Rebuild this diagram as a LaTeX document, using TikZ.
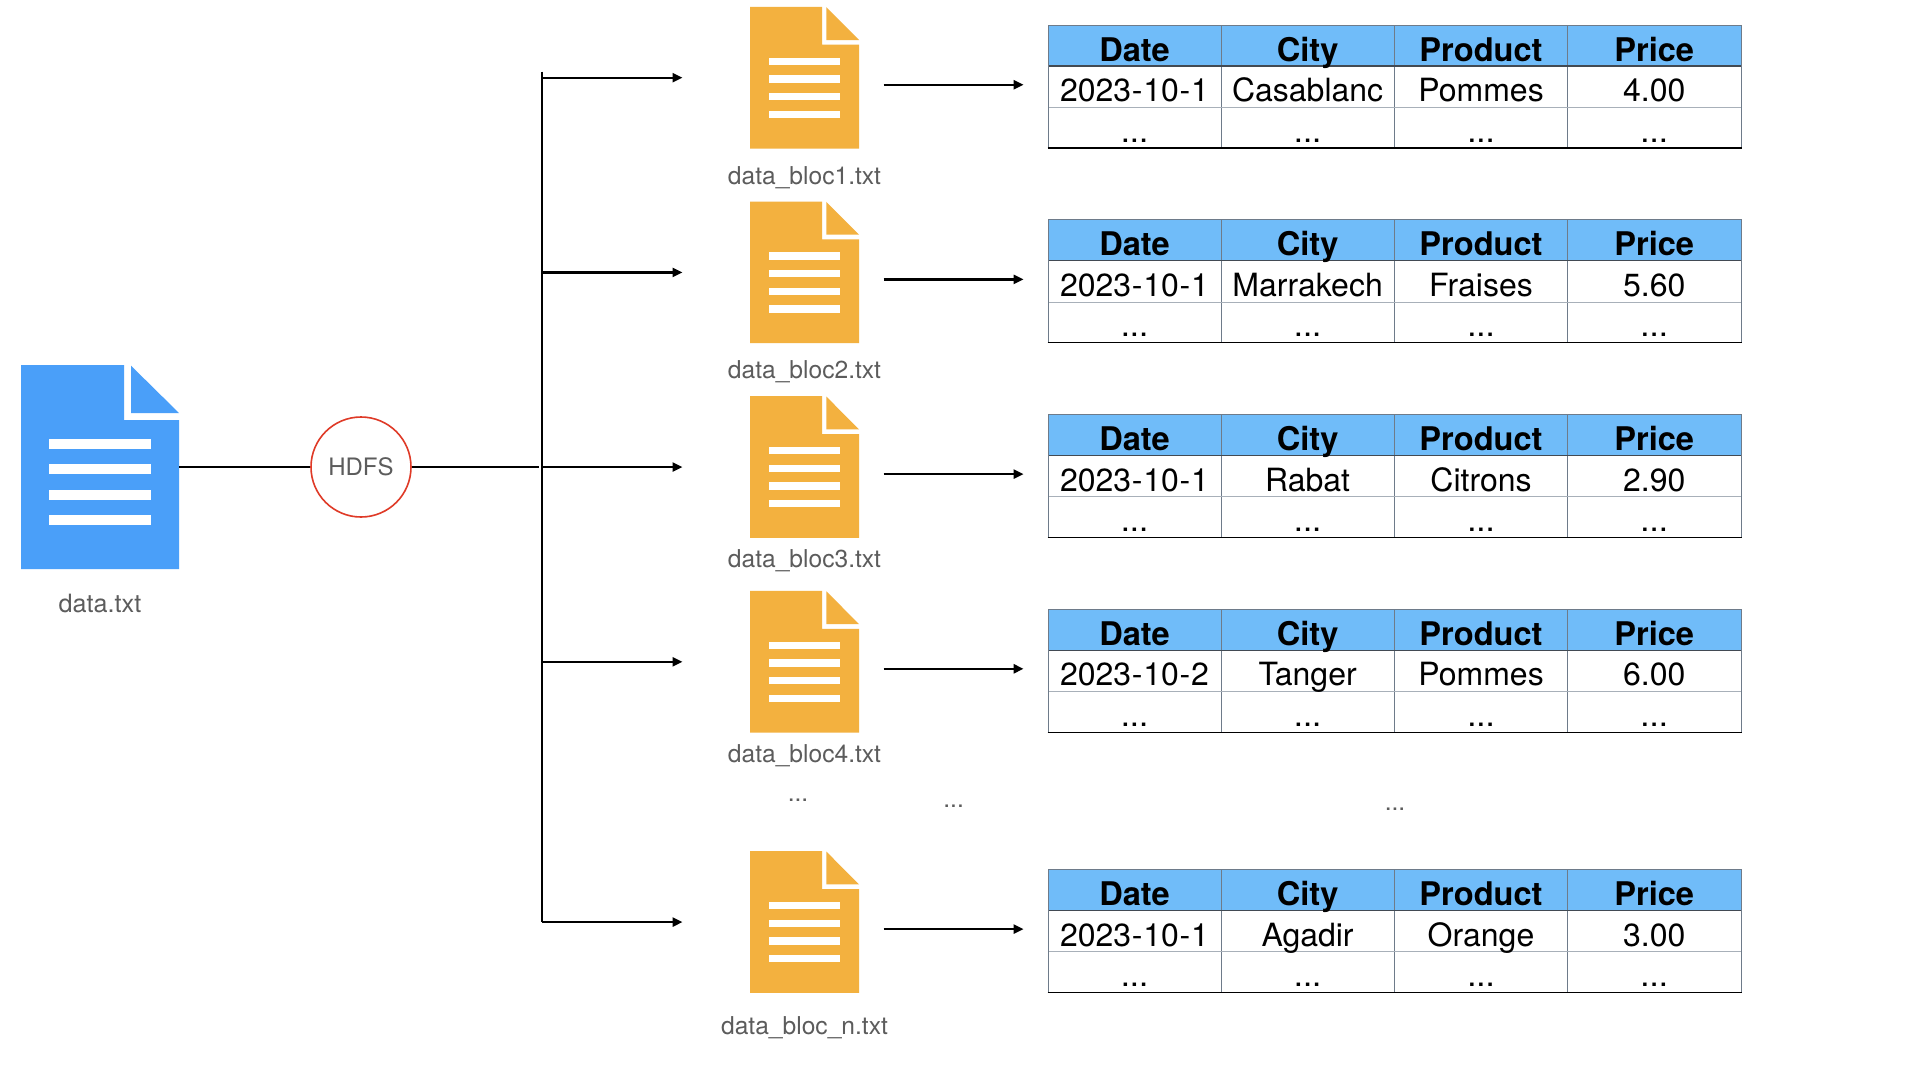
\documentclass[tikz,border=0pt]{standalone}
\usepackage{fontspec}
\setmainfont{TeX Gyre Heros}
\usetikzlibrary{arrows.meta}
\definecolor{docblue}{HTML}{4A9FF9}
\definecolor{docorange}{HTML}{F3B13F}
\definecolor{headblue}{HTML}{70BCF9}
\definecolor{hdfsred}{HTML}{DF3A27}
\definecolor{labelgrey}{HTML}{5C5C5C}
\definecolor{gridgrey}{HTML}{6E7B8A}
\newcommand{\fs}[1]{\fontsize{#1}{#1}\selectfont}
\newcommand{\hy}{\kern.75pt-\kern.75pt}
\tikzset{
  link/.style={line width=2.4pt,black},
  arr/.style={link,-{Triangle[length=10pt,width=9pt]}},
  lbl/.style={inner sep=0pt,anchor=center,text=labelgrey,font=\fs{24.6}},
  dots/.style={inner sep=0pt,anchor=base,text=labelgrey,font=\fs{24.6}},
  cell/.style={inner sep=0pt,anchor=base,text=black,font=\fs{32}},
  dotcell/.style={inner sep=0pt,anchor=base,text=black,font=\fs{33}},
  headcell/.style={inner sep=0pt,anchor=base,text=black,font=\fs{32.6}\bfseries},
  ghost/.style={inner sep=0pt,outer sep=0pt,draw=none}
}
% #1 id, #2 top of table, #3 label y, #4 label, #5 date, #6 city, #7 product, #8 price
\newcommand{\blocrow}[8]{
  \begin{scope}[shift={(0,#2)}]
    \node[ghost,minimum width=109pt,minimum height=141.7pt] (doc#1) at (804.5,52.65) {};
    \fill[docorange] (750,-18.2) -- (822,-18.2) -- (822,19.7) -- (859,19.7) -- (859,123.5) -- (750,123.5) -- cycle;
    \fill[docorange] (826.4,-17.8) -- (859,15) -- (826.4,15) -- cycle;
    \foreach \yy in {36.3,54,71.7,89.3}
      \fill[white] (769,\yy-3.65) rectangle (840,\yy+3.65);
    \fill[headblue] (1048,0) rectangle (1741,41);
    \draw[gridgrey,line width=.9pt] (1221,0) -- (1221,123) (1394.3,0) -- (1394.3,123) (1567.5,0) -- (1567.5,123);
    \draw[gridgrey!60,line width=1pt] (1048,82.3) -- (1741,82.3);
    \draw[gridgrey!60!black,line width=1.1pt] (1048,41) -- (1741,41);
    \draw[gridgrey,line width=1pt] (1048,123) -- (1048,0) -- (1741,0) -- (1741,123);
    \draw[black,line width=1.1pt] (1047.5,123) -- (1741.5,123);
    \node[ghost,minimum width=693pt,minimum height=123pt] (tab#1) at (1394.5,61.5) {};
    \node[headcell] (h#1a) at (1134.5,36) {Date};
    \node[headcell] (h#1b) at (1307.6,36) {City};
    \node[headcell] (h#1c) at (1481,36) {Product};
    \node[headcell] (h#1d) at (1654.2,36) {Price};
    \node[cell] (c#1a) at (1134.5,76.7) {#5};
    \node[cell] (c#1b) at (1307.6,76.7) {#6};
    \node[cell] (c#1c) at (1481,76.7) {#7};
    \node[cell] (c#1d) at (1654.2,76.7) {#8};
    \node[dotcell] (d#1a) at (1134.5,117) {...};
    \node[dotcell] (d#1b) at (1307.6,117) {...};
    \node[dotcell] (d#1c) at (1481,117) {...};
    \node[dotcell] (d#1d) at (1654.2,117) {...};
    \coordinate (s#1) at (542,52.7);
    \coordinate (e#1) at (682.5,52.7);
    \coordinate (ss#1) at (883.6,59.7);
    \coordinate (ee#1) at (1023.6,59.7);
  \end{scope}
  \node[lbl] (lab#1) at (804.5,#3) {#4};
  \draw[arr] (s#1) -- (e#1);
  \draw[arr] (ss#1) -- (ee#1);
}
\begin{document}
\begin{tikzpicture}[x=1pt,y=-1pt]
  \useasboundingbox (0,0) rectangle (1920,1080);
  \fill[white] (0,0) rectangle (1920,1080);

  % source document
  \node[ghost,minimum width=158pt,minimum height=204pt] (src) at (100,467) {};
  \fill[docblue] (21,365) -- (124,365) -- (124,420) -- (179,420) -- (179,569) -- (21,569) -- cycle;
  \fill[docblue] (131,365.7) -- (179,413) -- (131,413) -- cycle;
  \foreach \yy in {444,469.3,495,520.3}
    \fill[white] (49,\yy-5) rectangle (151,\yy+5);
  \node[lbl,font=\fs{25.2}] (srclab) at (100,603) {data.txt};

  \node[circle,draw=hdfsred,line width=1.6pt,fill=white,minimum size=100pt,inner sep=0pt,text=labelgrey,font=\fs{24}] (hdfs) at (361,467) {HDFS};
  \coordinate (tt) at (542,71.7);
  \coordinate (tb) at (542,922);
  \coordinate (jn) at (538.6,467);

  \draw[link] (src.east) -- (hdfs.west);
  \draw[link] (hdfs.east) -- (jn);
  \draw[link] (tt) -- (tb);

  \blocrow{1}{25}{178}{data\_bloc1.txt}{2023\hy10\hy1}{Casablanc}{Pommes}{4.00}
  \blocrow{2}{219.7}{371.7}{data\_bloc2.txt}{2023\hy10\hy1}{Marrakech}{Fraises}{5.60}
  \blocrow{3}{414.4}{561}{data\_bloc3.txt}{2023\hy10\hy1}{Rabat}{Citrons}{2.90}
  \blocrow{4}{609.1}{755.7}{data\_bloc4.txt}{2023\hy10\hy2}{Tanger}{Pommes}{6.00}
  \blocrow{5}{869.4}{1028}{data\_bloc\_n.txt}{2023\hy10\hy1}{Agadir}{Orange}{3.00}

  \node[dots] (dotsa) at (798,801) {...};
  \node[dots] (dotsb) at (953.6,807.7) {...};
  \node[dots] (dotsc) at (1395,810.3) {...};
\end{tikzpicture}
\end{document}
